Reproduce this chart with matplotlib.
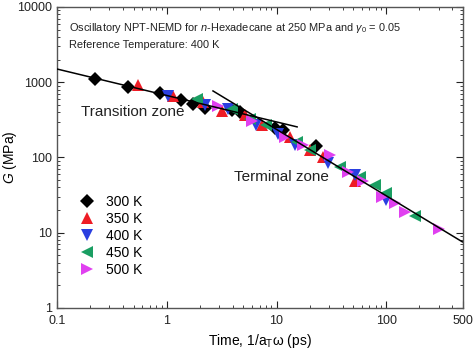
import numpy as np
import matplotlib
matplotlib.use("Agg")
import matplotlib.pyplot as plt

plt.rcParams['font.family'] = ['Liberation Sans', 'DejaVu Sans']
plt.rcParams['mathtext.fontset'] = 'custom'
plt.rcParams['mathtext.rm'] = 'Liberation Sans'
plt.rcParams['mathtext.it'] = 'Liberation Sans:italic'

# ---- data ----
t_300 = [0.222, 0.443, 0.869, 1.35, 1.74, 2.23, 3.94, 4.66, 9.71, 11.4, 23.0]
g_300 = [1107, 866, 721, 582, 515, 456, 429, 403, 247, 233, 143]

t_350 = [0.547, 1.14, 2.14, 3.19, 5.17, 7.39, 13.3, 20.2, 26.3, 52.1]
g_350 = [921, 658, 547, 416, 368, 271, 188, 126, 102, 48.9]

t_400 = [1.03, 2.23, 3.62, 6.52, 10.3, 14.8, 29.5, 52.1, 99.8]
g_400 = [658, 500, 442, 271, 206, 147, 84.8, 58.8, 27.4]

t_450 = [1.89, 3.94, 5.74, 8.04, 15.4, 20.2, 38.0, 57.8, 79.3, 99.8, 183]
g_450 = [600, 442, 326, 271, 161, 126, 75.0, 55.2, 43.3, 33.9, 16.5]

t_500 = [2.94, 5.99, 12.0, 17.5, 30.8, 45.0, 61.5, 91.8, 121, 149, 300]
g_500 = [484, 306, 188, 147, 108, 64.4, 48.9, 30.0, 24.5, 18.7, 11.1]

# fitted power-law lines (end points)
trans_t = [0.1, 15.4]
trans_g = [1500, 255]
term_t = [2.64, 492]
term_g = [766, 7.57]

series = [
    ("300 K", t_300, g_300, 'D', 'black', 7.5),
    ("350 K", t_350, g_350, '^', '#ee1c25', 8.5),
    ("400 K", t_400, g_400, 'v', '#2a3fe0', 8.5),
    ("450 K", t_450, g_450, '<', '#1a9e62', 8.5),
    ("500 K", t_500, g_500, '>', '#e040f0', 8.5),
]

fig = plt.figure(figsize=(4.74, 3.49), dpi=100)
ax = fig.add_axes([0.120, 0.1175, 0.857, 0.8625])

for label, t, g, m, c, ms in series:
    ax.plot(t, g, linestyle='none', marker=m, color=c, markersize=ms,
            markeredgewidth=0, label=label)

ax.plot(trans_t, trans_g, color='black', lw=1.1, zorder=3)
ax.plot(term_t, term_g, color='black', lw=1.1, zorder=3)

ax.set_xscale('log')
ax.set_yscale('log')
ax.set_xlim(0.1, 500)
ax.set_ylim(1, 10000)
ax.set_xticks([0.1, 1, 10, 100, 500])
ax.set_xticklabels(['0.1', '1', '10', '100', '500'])
ax.set_yticks([1, 10, 100, 1000, 10000])
ax.set_yticklabels(['1', '10', '100', '1000', '10000'])
ax.tick_params(which='both', direction='in', top=True, right=True,
               labelsize=9, colors='#222222')
ax.tick_params(which='major', length=5)
ax.tick_params(which='minor', length=2.5)
ax.tick_params(axis='x', which='major', pad=5)
for s in ax.spines.values():
    s.set_color('#555555')
    s.set_linewidth(1.0)

ax.set_xlabel(r'Time, 1/a$_\mathrm{T}$ω (ps)', fontsize=10, labelpad=4)
ax.set_ylabel(r'$G$ (MPa)', fontsize=10, va='center')
ax.yaxis.set_label_coords(-0.115, 0.5)

ax.text(0.03, 0.93, r'Oscillatory NPT-NEMD for $n$-Hexadecane at 250 MPa and $\gamma_0$ = 0.05',
        transform=ax.transAxes, fontsize=7.9, color='#222222', va='center')
ax.text(0.03, 0.875, 'Reference Temperature: 400 K',
        transform=ax.transAxes, fontsize=7.9, color='#222222', va='center')
ax.text(0.06, 0.652, 'Transition zone', transform=ax.transAxes,
        fontsize=11, color='#222222', va='center')
ax.text(0.435, 0.435, 'Terminal zone', transform=ax.transAxes,
        fontsize=11, color='#222222', va='center')

ax.legend(loc='upper left', bbox_to_anchor=(0.035, 0.395), frameon=False,
          fontsize=10, handletextpad=0.6, labelspacing=0.22,
          borderaxespad=0, handlelength=1.5)

fig.savefig('out.png', dpi=100)
